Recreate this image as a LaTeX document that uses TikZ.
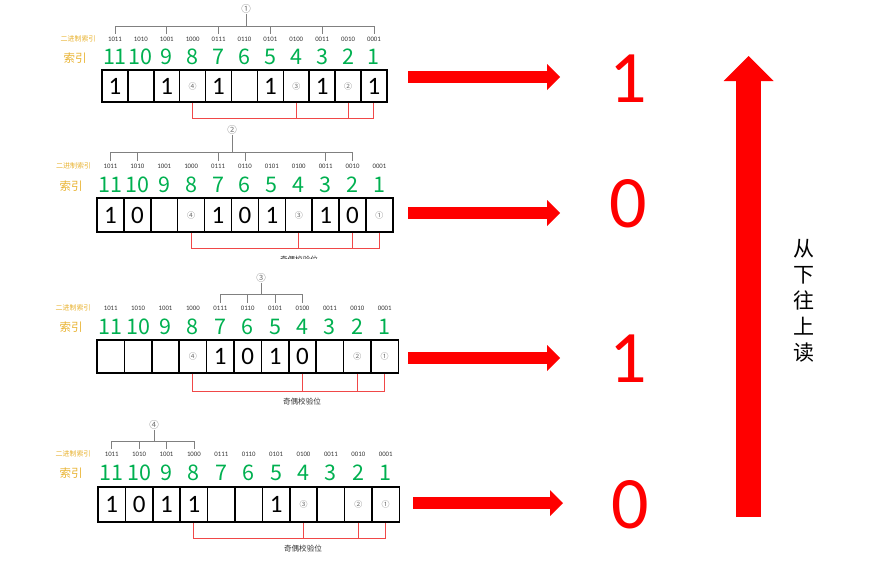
\documentclass[tikz,border=0pt]{standalone}
\usepackage{fontspec}
\setmainfont{Carlito}
\newfontfamily\cjk{Noto Sans CJK SC}
\usetikzlibrary{arrows.meta}

\definecolor{idxgreen}{RGB}{0,176,80}
\definecolor{lblgold}{RGB}{232,178,48}
\definecolor{parred}{RGB}{240,72,72}
\definecolor{brgray}{RGB}{128,128,128}

\newcommand{\pbit}[1]{{\cjk\fontsize{8}{8}\selectfont\color{black!55}#1}}

\tikzset{
  cell/.style={draw, line width=1.5pt, inner sep=0pt, font=\fontsize{25}{25}\selectfont},
  idx/.style={text=idxgreen, inner sep=0pt, font=\cjk\fontsize{21.5}{21.5}\selectfont},
  bin/.style={text=black!80, inner sep=0pt, font=\fontsize{6.8}{6.8}\selectfont},
  grp/.style={text=black!55, inner sep=0pt, font=\cjk\fontsize{9.5}{9.5}\selectfont},
  binlbl/.style={text=lblgold, inner sep=0pt, font=\cjk\fontsize{7}{7}\selectfont},
  idxlbl/.style={text=lblgold, inner sep=0pt, font=\cjk\fontsize{11.5}{11.5}\selectfont},
  note/.style={text=black!80, inner sep=0pt, font=\cjk\fontsize{7.6}{7.6}\selectfont},
  res/.style={text=red, inner sep=0pt, font=\fontsize{74}{74}\selectfont},
  brk/.style={draw=brgray, line width=0.8pt},
  par/.style={draw=parred, line width=1pt},
  bigarrow/.style={draw=red, line width=12pt, -{Triangle[length=13pt,width=26pt,line width=0pt]}},
}

\begin{document}
\begin{tikzpicture}[x=1pt, y=-1pt]
\useasboundingbox (0,0) rectangle (896,568);

% panel 1
\node[binlbl] (p1bl) at (78,39) {二进制索引};
\node[idxlbl] (p1nl) at (75,58) {索引};
\foreach \c/\v in {11/1,10/{},9/1,8/\pbit{④},7/1,6/{},5/1,4/\pbit{③},3/1,2/\pbit{②},1/1}
  \node[cell, minimum width=25.9pt, minimum height=32pt] (p1c\c) at ({102+25.9*(11.5-\c)},86) {\v};
\foreach \c/\b in {11/1011,10/1010,9/1001,8/1000,7/0111,6/0110,5/0101,4/0100,3/0011,2/0010,1/0001}
{
  \node[bin] (p1b\c) at ({102+25.9*(11.5-\c)},39) {\b};
  \node[idx] (p1n\c) at ({102+25.9*(11.5-\c)},57) {\c};
}
\node[grp] (g1) at (246,9) {①};
\coordinate (k1) at (0,26);
\draw[brk] ([yshift=3pt]p1b11.north) -- (p1b11.north |- k1) -- (p1b1.north |- k1) -- ([yshift=3pt]p1b1.north);
\foreach \c in {9,7,5,3}
  \draw[brk] ([yshift=3pt]p1b\c.north) -- (p1b\c.north |- k1);
\draw[brk] (g1.south) -- (g1.south |- k1);
\coordinate (q1) at (0,118);
\draw[par] (p1c8.south) -- (p1c8.south |- q1) -- (p1c1.south |- q1) -- (p1c1.south);
\foreach \c in {4,2}
  \draw[par] (p1c\c.south) -- (p1c\c.south |- q1);

% panel 2
\node[binlbl] (p2bl) at (73.5,166) {二进制索引};
\node[idxlbl] (p2nl) at (71,186) {索引};
\foreach \c/\v in {11/1,10/0,9/{},8/\pbit{④},7/1,6/0,5/1,4/\pbit{③},3/1,2/0,1/\pbit{①}}
  \node[cell, minimum width=26.9pt, minimum height=34pt] (p2c\c) at ({97+26.9*(11.5-\c)},215) {\v};
\foreach \c/\b in {11/1011,10/1010,9/1001,8/1000,7/0111,6/0110,5/0101,4/0100,3/0011,2/0010,1/0001}
{
  \node[bin] (p2b\c) at ({97+26.9*(11.5-\c)},166) {\b};
  \node[idx] (p2n\c) at ({97+26.9*(11.5-\c)},185) {\c};
}
\node[grp] (g2) at (232,130) {②};
\coordinate (k2) at (0,152);
\draw[brk] ([yshift=3pt]p2b11.north) -- (p2b11.north |- k2) -- (p2b2.north |- k2) -- ([yshift=3pt]p2b2.north);
\foreach \c in {10,7,6,3}
  \draw[brk] ([yshift=3pt]p2b\c.north) -- (p2b\c.north |- k2);
\draw[brk] (g2.south) -- (g2.south |- k2);
\coordinate (q2) at (0,248);
\draw[par] (p2c8.south) -- (p2c8.south |- q2) -- (p2c1.south |- q2) -- (p2c1.south);
\foreach \c in {4,2}
  \draw[par] (p2c\c.south) -- (p2c\c.south |- q2);
\begin{scope}
  \clip (200,250) rectangle (400,258);
  \node[note] (chk2) at (299,260) {奇偶校验位};
\end{scope}

% panel 3
\node[binlbl] (p3bl) at (73,308) {二进制索引};
\node[idxlbl] (p3nl) at (71,327) {索引};
\foreach \c/\v in {11/{},10/{},9/{},8/\pbit{④},7/1,6/0,5/1,4/0,3/{},2/\pbit{②},1/\pbit{①}}
  \node[cell, minimum width=27.4pt, minimum height=33pt] (p3c\c) at ({97+27.4*(11.5-\c)},356.5) {\v};
\foreach \c/\b in {11/1011,10/1010,9/1001,8/1000,7/0111,6/0110,5/0101,4/0100,3/0011,2/0010,1/0001}
{
  \node[bin] (p3b\c) at ({97+27.4*(11.5-\c)},308) {\b};
  \node[idx] (p3n\c) at ({97+27.4*(11.5-\c)},327) {\c};
}
\node[grp] (g3) at (261,278) {③};
\coordinate (k3) at (0,294);
\draw[brk] ([yshift=3pt]p3b7.north) -- (p3b7.north |- k3) -- (p3b4.north |- k3) -- ([yshift=3pt]p3b4.north);
\foreach \c in {6,5}
  \draw[brk] ([yshift=3pt]p3b\c.north) -- (p3b\c.north |- k3);
\draw[brk] (g3.south) -- (g3.south |- k3);
\coordinate (q3) at (0,391);
\draw[par] (p3c8.south) -- (p3c8.south |- q3) -- (p3c1.south |- q3) -- (p3c1.south);
\foreach \c in {4,2}
  \draw[par] (p3c\c.south) -- (p3c\c.south |- q3);
\node[note] (chk3) at (302,402) {奇偶校验位};

% panel 4
\node[binlbl] (p4bl) at (73,454) {二进制索引};
\node[idxlbl] (p4nl) at (71,473) {索引};
\foreach \c/\v in {11/1,10/0,9/1,8/1,7/{},6/{},5/1,4/\pbit{③},3/{},2/\pbit{②},1/\pbit{①}}
  \node[cell, minimum width=27.4pt, minimum height=35pt] (p4c\c) at ({98+27.4*(11.5-\c)},504.5) {\v};
\foreach \c/\b in {11/1011,10/1010,9/1001,8/1000,7/0111,6/0110,5/0101,4/0100,3/0011,2/0010,1/0001}
{
  \node[bin] (p4b\c) at ({98+27.4*(11.5-\c)},454) {\b};
  \node[idx] (p4n\c) at ({98+27.4*(11.5-\c)},473) {\c};
}
\node[grp] (g4) at (154,425) {④};
\coordinate (k4) at (0,441);
\draw[brk] ([yshift=3pt]p4b11.north) -- (p4b11.north |- k4) -- (p4b8.north |- k4) -- ([yshift=3pt]p4b8.north);
\foreach \c in {10,9}
  \draw[brk] ([yshift=3pt]p4b\c.north) -- (p4b\c.north |- k4);
\draw[brk] (g4.south) -- (g4.south |- k4);
\coordinate (q4) at (0,538);
\draw[par] (p4c8.south) -- (p4c8.south |- q4) -- (p4c1.south |- q4) -- (p4c1.south);
\foreach \c in {4,2}
  \draw[par] (p4c\c.south) -- (p4c\c.south |- q4);
\node[note] (chk4) at (303,549) {奇偶校验位};

% results
\node[res] (r1) at (628,79) {1};
\node[res] (r2) at (628,204) {0};
\node[res] (r3) at (628,359) {1};
\node[res] (r4) at (630,505) {0};

\coordinate (a1s) at (408,77);
\coordinate (a1e) at (560,77);
\coordinate (a2s) at (408,213);
\coordinate (a2e) at (560,213);
\coordinate (a3s) at (408,358);
\coordinate (a3e) at (560,358);
\coordinate (a4s) at (413,503);
\coordinate (a4e) at (563,503);
\draw[bigarrow] (a1s) -- (a1e);
\draw[bigarrow] (a2s) -- (a2e);
\draw[bigarrow] (a3s) -- (a3e);
\draw[bigarrow] (a4s) -- (a4e);

% read direction
\coordinate (up0) at (748.5,517);
\coordinate (up1) at (748.5,56);
\draw[draw=red, line width=25pt, -{Triangle[length=25pt,width=50pt,line width=0pt]}] (up0) -- (up1);
\node[align=center, inner sep=0pt, font=\cjk\fontsize{21}{26}\selectfont] (rd) at (804,301) {从\\下\\往\\上\\读};
\end{tikzpicture}
\end{document}
